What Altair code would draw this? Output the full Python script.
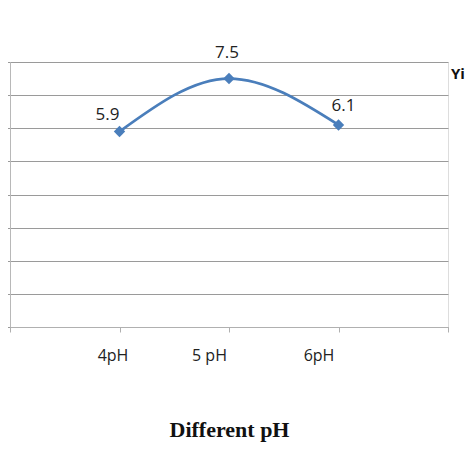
import altair as alt
import pandas as pd

categories = ["4pH", "5 pH", "6pH"]
positions = [1, 2, 3]
values = [5.9, 7.5, 6.1]
labels = ["5.9", "7.5", "6.1"]

df = pd.DataFrame({"cat": categories, "pos": positions, "val": values, "lab": labels})

label_expr = "datum.value == 1 ? '4pH' : datum.value == 2 ? '5 pH' : datum.value == 3 ? '6pH' : ''"

x = alt.X("pos:Q", scale=alt.Scale(domain=[0, 4], nice=False, zero=False),
          axis=alt.Axis(values=[0, 1, 2, 3, 4], labelExpr=label_expr, grid=False,
                        tickColor="#b0b0b0", tickSize=5, domainColor="#b0b0b0",
                        labelFont="Open Sans", labelFontSize=16, labelColor="#222222",
                        labelPadding=15,
                        labelOffset={"expr": "datum.value == 1 ? -7 : -20"},
                        title="Different pH", titleFont="Liberation Serif",
                        titleFontSize=22, titleFontWeight="bold", titleColor="#111111",
                        titlePadding=56))
y = alt.Y("val:Q", scale=alt.Scale(domain=[0, 8], nice=False),
          axis=alt.Axis(values=list(range(0, 9)), labels=False, title=None,
                        grid=True, gridColor="#9a9a9a", gridWidth=1,
                        tickColor="#9a9a9a", tickSize=7, domainColor="#b8b8b8"))

base = alt.Chart(df)

line = base.mark_line(interpolate="monotone", color="#4A7EBB", strokeWidth=2.8).encode(x=x, y=y)
pts = base.mark_point(shape="diamond", filled=True, color="#4A7EBB", size=130, opacity=1).encode(x=x, y=y)

def lab(cat, dx, dy):
    return base.transform_filter(alt.datum.cat == cat).mark_text(
        font="Open Sans", fontSize=17, color="#222222", dx=dx, dy=dy
    ).encode(x=x, y=y, text="lab:N")

t1 = lab("4pH", -12, -17)
t2 = lab("5 pH", -2, -26)
t3 = lab("6pH", 5, -19)

yi = alt.Chart(pd.DataFrame({"t": ["Yi"]})).mark_text(
    font="Open Sans", fontSize=15, fontWeight="bold", color="#111111", align="left"
).encode(x=alt.value(441), y=alt.value(12), text="t:N")

chart = alt.layer(line, pts, t1, t2, t3, yi).properties(
    width=438, height=265,
    autosize=alt.AutoSizeParams(type="none"),
    padding={"left": 2, "top": 54, "right": 18, "bottom": 124},
).configure_view(stroke=None).configure(background="white")

chart.save("out.html", embed_options={"renderer": "svg", "actions": False})
